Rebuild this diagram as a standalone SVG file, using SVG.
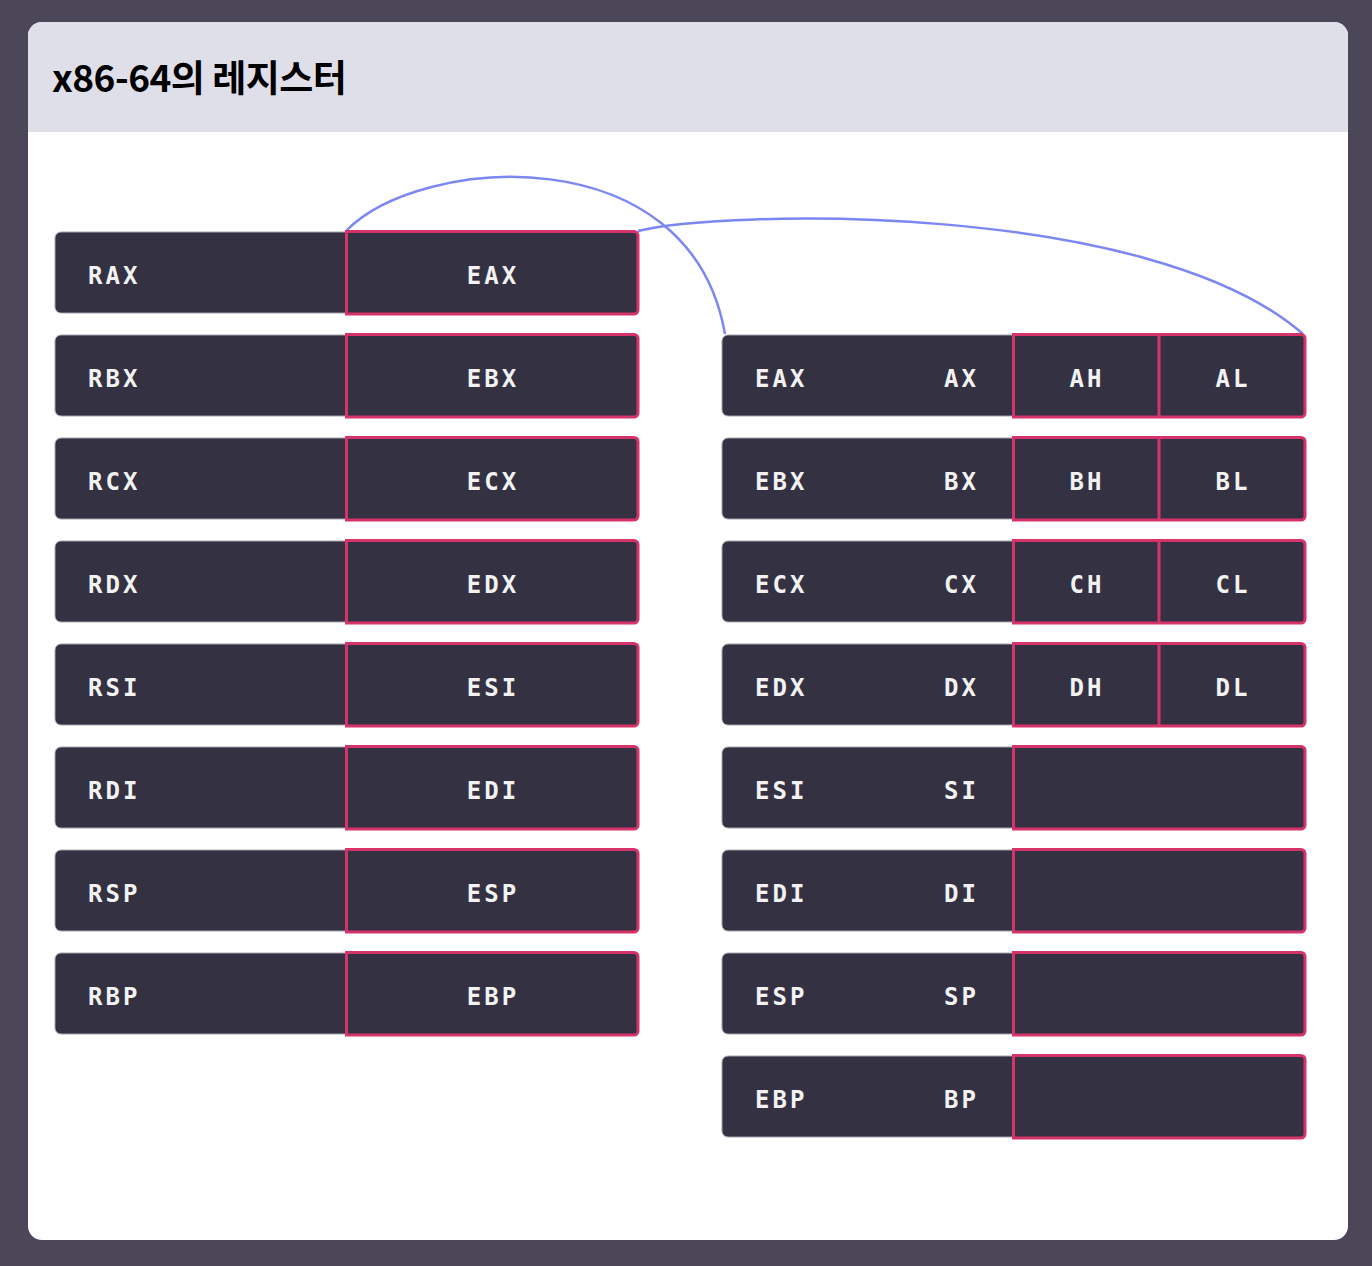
<svg xmlns="http://www.w3.org/2000/svg" width="1372" height="1266" viewBox="0 0 1372 1266">
<style>
.row{fill:#333142;stroke:#a3a3ab;stroke-width:1}
.pk{fill:#333142;stroke:#d7336b;stroke-width:3}
.dv{stroke:#d7336b;stroke-width:3}
.t{font-family:"DejaVu Sans Mono","Liberation Mono",monospace;font-weight:bold;font-size:24px;fill:#f2f2f2;letter-spacing:3px}
.c{text-anchor:middle}
.link{fill:none;stroke:#7b87f2;stroke-width:2.5}
</style>
<rect x="0" y="0" width="1372" height="1266" fill="#4b4759"/>
<rect x="28" y="22" width="1320" height="1218" rx="14" fill="#ffffff"/>
<path d="M28 132 V36 a14 14 0 0 1 14 -14 H1334 a14 14 0 0 1 14 14 V132 Z" fill="#dfdfea"/>
<text x="52" y="92" font-family="'Noto Sans CJK KR','Noto Sans',sans-serif" font-weight="bold" font-size="37" letter-spacing="-0.5" fill="#000">x86-64의 레지스터</text>

<g id="connectors">
<path class="link" d="M346 231 C420 155 690 135 725 334"/>
<path class="link" d="M638 231 C720 210 1150 200 1303 334"/>
</g>

<g id="left">
<g id="RAX"><rect class="row" x="55" y="232" width="583" height="81" rx="6"/><path class="pk" d="M346.5 231.5 H634 a4 4 0 0 1 4 4 V310 a4 4 0 0 1 -4 4 H346.5 Z"/><text class="t" x="88" y="284">RAX</text><text class="t c" x="493" y="284">EAX</text></g>
<g id="RBX" transform="translate(0,103)"><rect class="row" x="55" y="232" width="583" height="81" rx="6"/><path class="pk" d="M346.5 231.5 H634 a4 4 0 0 1 4 4 V310 a4 4 0 0 1 -4 4 H346.5 Z"/><text class="t" x="88" y="284">RBX</text><text class="t c" x="493" y="284">EBX</text></g>
<g id="RCX" transform="translate(0,206)"><rect class="row" x="55" y="232" width="583" height="81" rx="6"/><path class="pk" d="M346.5 231.5 H634 a4 4 0 0 1 4 4 V310 a4 4 0 0 1 -4 4 H346.5 Z"/><text class="t" x="88" y="284">RCX</text><text class="t c" x="493" y="284">ECX</text></g>
<g id="RDX" transform="translate(0,309)"><rect class="row" x="55" y="232" width="583" height="81" rx="6"/><path class="pk" d="M346.5 231.5 H634 a4 4 0 0 1 4 4 V310 a4 4 0 0 1 -4 4 H346.5 Z"/><text class="t" x="88" y="284">RDX</text><text class="t c" x="493" y="284">EDX</text></g>
<g id="RSI" transform="translate(0,412)"><rect class="row" x="55" y="232" width="583" height="81" rx="6"/><path class="pk" d="M346.5 231.5 H634 a4 4 0 0 1 4 4 V310 a4 4 0 0 1 -4 4 H346.5 Z"/><text class="t" x="88" y="284">RSI</text><text class="t c" x="493" y="284">ESI</text></g>
<g id="RDI" transform="translate(0,515)"><rect class="row" x="55" y="232" width="583" height="81" rx="6"/><path class="pk" d="M346.5 231.5 H634 a4 4 0 0 1 4 4 V310 a4 4 0 0 1 -4 4 H346.5 Z"/><text class="t" x="88" y="284">RDI</text><text class="t c" x="493" y="284">EDI</text></g>
<g id="RSP" transform="translate(0,618)"><rect class="row" x="55" y="232" width="583" height="81" rx="6"/><path class="pk" d="M346.5 231.5 H634 a4 4 0 0 1 4 4 V310 a4 4 0 0 1 -4 4 H346.5 Z"/><text class="t" x="88" y="284">RSP</text><text class="t c" x="493" y="284">ESP</text></g>
<g id="RBP" transform="translate(0,721)"><rect class="row" x="55" y="232" width="583" height="81" rx="6"/><path class="pk" d="M346.5 231.5 H634 a4 4 0 0 1 4 4 V310 a4 4 0 0 1 -4 4 H346.5 Z"/><text class="t" x="88" y="284">RBP</text><text class="t c" x="493" y="284">EBP</text></g>
</g>

<g id="right">
<g id="EAX16"><rect class="row" x="722" y="335" width="583" height="81" rx="6"/><path class="pk" d="M1013.5 334.5 H1301 a4 4 0 0 1 4 4 V413 a4 4 0 0 1 -4 4 H1013.5 Z"/><line class="dv" x1="1159" y1="334.5" x2="1159" y2="417"/><text class="t" x="755" y="387">EAX</text><text class="t" x="944" y="387">AX</text><text class="t c" x="1087" y="387">AH</text><text class="t c" x="1233" y="387">AL</text></g>
<g id="EBX16" transform="translate(0,103)"><rect class="row" x="722" y="335" width="583" height="81" rx="6"/><path class="pk" d="M1013.5 334.5 H1301 a4 4 0 0 1 4 4 V413 a4 4 0 0 1 -4 4 H1013.5 Z"/><line class="dv" x1="1159" y1="334.5" x2="1159" y2="417"/><text class="t" x="755" y="387">EBX</text><text class="t" x="944" y="387">BX</text><text class="t c" x="1087" y="387">BH</text><text class="t c" x="1233" y="387">BL</text></g>
<g id="ECX16" transform="translate(0,206)"><rect class="row" x="722" y="335" width="583" height="81" rx="6"/><path class="pk" d="M1013.5 334.5 H1301 a4 4 0 0 1 4 4 V413 a4 4 0 0 1 -4 4 H1013.5 Z"/><line class="dv" x1="1159" y1="334.5" x2="1159" y2="417"/><text class="t" x="755" y="387">ECX</text><text class="t" x="944" y="387">CX</text><text class="t c" x="1087" y="387">CH</text><text class="t c" x="1233" y="387">CL</text></g>
<g id="EDX16" transform="translate(0,309)"><rect class="row" x="722" y="335" width="583" height="81" rx="6"/><path class="pk" d="M1013.5 334.5 H1301 a4 4 0 0 1 4 4 V413 a4 4 0 0 1 -4 4 H1013.5 Z"/><line class="dv" x1="1159" y1="334.5" x2="1159" y2="417"/><text class="t" x="755" y="387">EDX</text><text class="t" x="944" y="387">DX</text><text class="t c" x="1087" y="387">DH</text><text class="t c" x="1233" y="387">DL</text></g>
<g id="ESI16" transform="translate(0,412)"><rect class="row" x="722" y="335" width="583" height="81" rx="6"/><path class="pk" d="M1013.5 334.5 H1301 a4 4 0 0 1 4 4 V413 a4 4 0 0 1 -4 4 H1013.5 Z"/><text class="t" x="755" y="387">ESI</text><text class="t" x="944" y="387">SI</text></g>
<g id="EDI16" transform="translate(0,515)"><rect class="row" x="722" y="335" width="583" height="81" rx="6"/><path class="pk" d="M1013.5 334.5 H1301 a4 4 0 0 1 4 4 V413 a4 4 0 0 1 -4 4 H1013.5 Z"/><text class="t" x="755" y="387">EDI</text><text class="t" x="944" y="387">DI</text></g>
<g id="ESP16" transform="translate(0,618)"><rect class="row" x="722" y="335" width="583" height="81" rx="6"/><path class="pk" d="M1013.5 334.5 H1301 a4 4 0 0 1 4 4 V413 a4 4 0 0 1 -4 4 H1013.5 Z"/><text class="t" x="755" y="387">ESP</text><text class="t" x="944" y="387">SP</text></g>
<g id="EBP16" transform="translate(0,721)"><rect class="row" x="722" y="335" width="583" height="81" rx="6"/><path class="pk" d="M1013.5 334.5 H1301 a4 4 0 0 1 4 4 V413 a4 4 0 0 1 -4 4 H1013.5 Z"/><text class="t" x="755" y="387">EBP</text><text class="t" x="944" y="387">BP</text></g>
</g>
</svg>
